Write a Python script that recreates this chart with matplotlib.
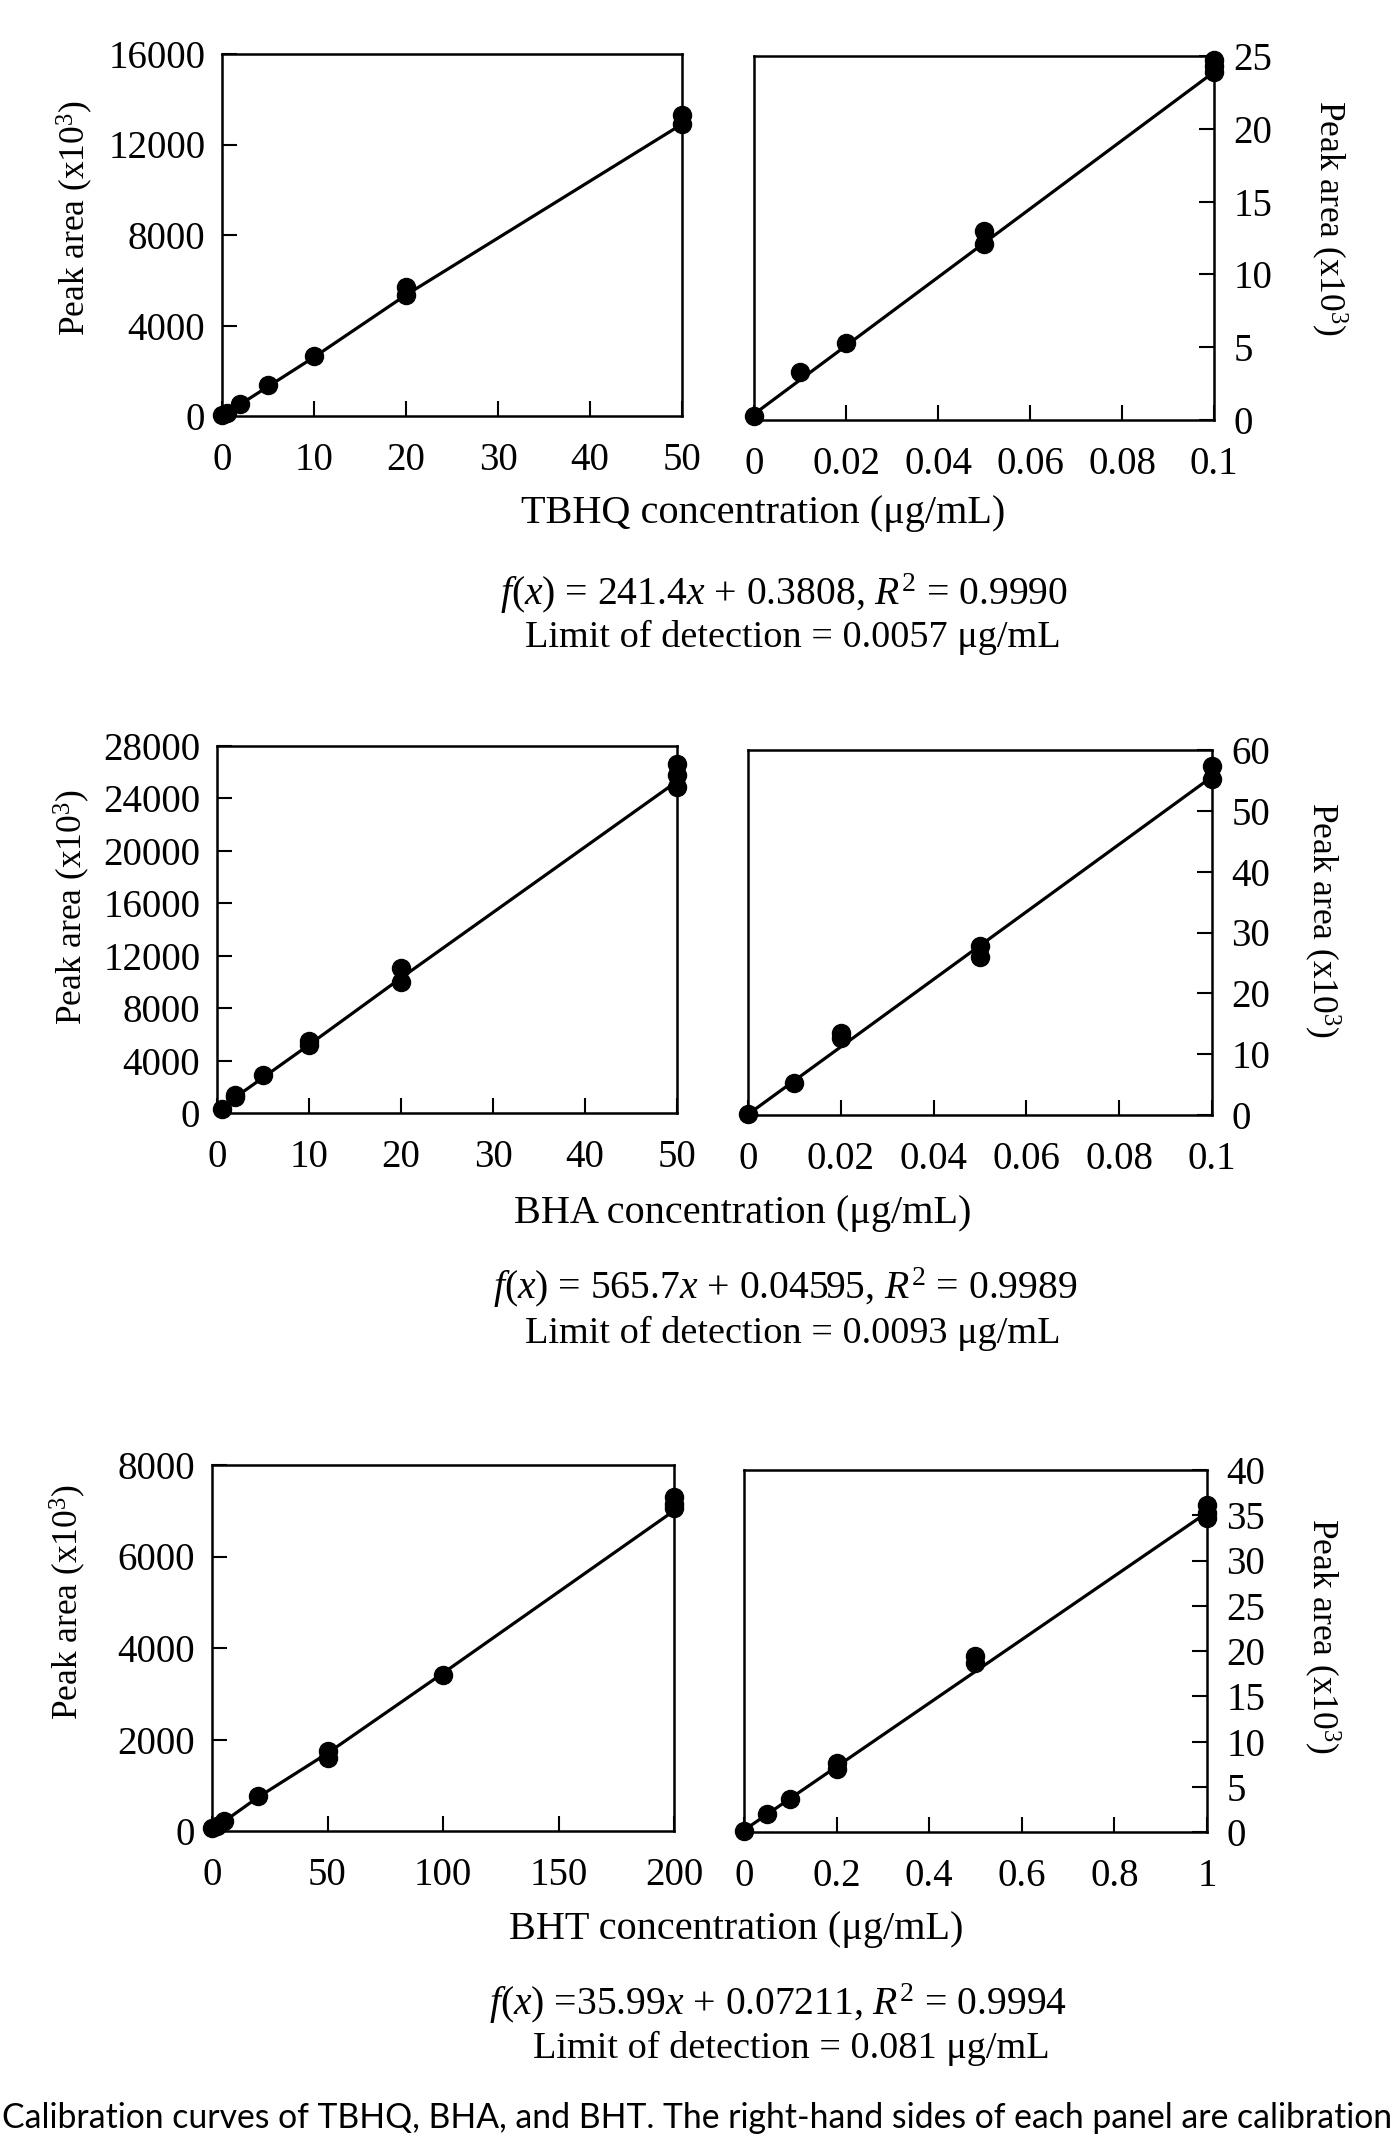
import numpy as np
import matplotlib
matplotlib.use("Agg")
import matplotlib.pyplot as plt

plt.rcParams['font.family'] = ['Liberation Serif', 'DejaVu Serif']
plt.rcParams['mathtext.fontset'] = 'custom'
plt.rcParams['mathtext.rm'] = 'Liberation Serif'
plt.rcParams['mathtext.it'] = 'Liberation Serif:italic'

# ---------------- data ----------------
# TBHQ, high range (µg/mL vs peak area x10^3)
tbhq_hi_x = [0, 0.5, 2, 5, 10, 20, 20, 50, 50]
tbhq_hi_y = [50, 120, 550, 1350, 2650, 5350, 5700, 12900, 13300]
tbhq_hi_line_x = [0, 2, 5, 10, 20, 50]
tbhq_hi_line_y = [30, 520, 1300, 2600, 5350, 12900]
tbhq_hi_xticks = [0, 10, 20, 30, 40, 50]
tbhq_hi_xticklabels = ['0', '10', '20', '30', '40', '50']
tbhq_hi_yticks = [0, 4000, 8000, 12000, 16000]

# TBHQ, low range
tbhq_lo_x = [0, 0.01, 0.02, 0.05, 0.05, 0.1, 0.1, 0.1]
tbhq_lo_y = [0.25, 3.3, 5.3, 13.0, 12.1, 24.7, 24.3, 23.9]
tbhq_lo_line_x = [0, 0.1]
tbhq_lo_line_y = [0.4, 23.9]
tbhq_lo_xticks = [0, 0.02, 0.04, 0.06, 0.08, 0.1]
tbhq_lo_xticklabels = ['0', '0.02', '0.04', '0.06', '0.08', '0.1']
tbhq_lo_yticks = [0, 5, 10, 15, 20, 25]

# BHA, high range
bha_hi_x = [0.5, 2, 2, 5, 10, 10, 20, 20, 50, 50, 50]
bha_hi_y = [300, 1200, 1350, 2900, 5200, 5500, 11100, 10000, 26600, 25800, 24900]
bha_hi_line_x = [0.5, 2, 5, 10, 20, 50]
bha_hi_line_y = [250, 1200, 2700, 5200, 10300, 25300]
bha_hi_xticks = [0, 10, 20, 30, 40, 50]
bha_hi_xticklabels = ['0', '10', '20', '30', '40', '50']
bha_hi_yticks = [0, 4000, 8000, 12000, 16000, 20000, 24000, 28000]

# BHA, low range
bha_lo_x = [0, 0.01, 0.02, 0.02, 0.05, 0.05, 0.1, 0.1]
bha_lo_y = [0.1, 5.3, 13.4, 12.6, 27.8, 25.9, 57.3, 55.3]
bha_lo_line_x = [0, 0.1]
bha_lo_line_y = [0.1, 55.6]
bha_lo_xticks = [0, 0.02, 0.04, 0.06, 0.08, 0.1]
bha_lo_xticklabels = ['0', '0.02', '0.04', '0.06', '0.08', '0.1']
bha_lo_yticks = [0, 10, 20, 30, 40, 50, 60]

# BHT, high range
bht_hi_x = [0, 2, 5, 20, 50, 50, 100, 200, 200, 200]
bht_hi_y = [60, 120, 220, 760, 1750, 1600, 3420, 7300, 7150, 7050]
bht_hi_line_x = [0, 5, 20, 50, 100, 200]
bht_hi_line_y = [30, 200, 740, 1700, 3450, 7000]
bht_hi_xticks = [0, 50, 100, 150, 200]
bht_hi_xticklabels = ['0', '50', '100', '150', '200']
bht_hi_yticks = [0, 2000, 4000, 6000, 8000]

# BHT, low range
bht_lo_x = [0, 0.05, 0.1, 0.2, 0.2, 0.5, 0.5, 1, 1, 1]
bht_lo_y = [0.1, 2.0, 3.7, 7.6, 7.0, 19.4, 18.7, 36.1, 35.2, 34.7]
bht_lo_line_x = [0, 1]
bht_lo_line_y = [0.2, 35.3]
bht_lo_xticks = [0, 0.2, 0.4, 0.6, 0.8, 1]
bht_lo_xticklabels = ['0', '0.2', '0.4', '0.6', '0.8', '1']
bht_lo_yticks = [0, 5, 10, 15, 20, 25, 30, 35, 40]

ylabel_text = 'Peak area (x10$^{3}$)'
xlabels = ['TBHQ concentration (\u03bcg/mL)',
           'BHA concentration (\u03bcg/mL)',
           'BHT concentration (\u03bcg/mL)']
eq_lines = [
    ['$f$($x$) = 241.4$x$ + 0.3808, $R^{2}$ = 0.9990',
     'Limit of detection = 0.0057 \u03bcg/mL'],
    ['$f$($x$) = 565.7$x$ + 0.04595, $R^{2}$ = 0.9989',
     'Limit of detection = 0.0093 \u03bcg/mL'],
    ['$f$($x$) =35.99$x$ + 0.07211, $R^{2}$ = 0.9994',
     'Limit of detection = 0.081 \u03bcg/mL'],
]
caption = ('Calibration curves of TBHQ, BHA, and BHT. The right-hand sides of '
           'each panel are calibration')

# ---------------- layout ----------------
W, H = 1392, 2137
fig = plt.figure(figsize=(W / 100, H / 100), dpi=100)


def rect(l, r, t, b):
    return [l / W, 1 - b / H, (r - l) / W, (b - t) / H]


TICK_FS = 28
LW = 1.8


def panel(box, x, y, lx, ly, xlim, ylim, xticks, xtl, yticks, side):
    ax = fig.add_axes(rect(*box))
    ax.plot(lx, ly, color='black', lw=2.3, solid_capstyle='round', clip_on=False, zorder=2)
    ax.plot(x, y, 'o', color='black', markersize=13, clip_on=False, zorder=3)
    ax.set_xlim(*xlim)
    ax.set_ylim(*ylim)
    ax.set_xticks(xticks)
    ax.set_xticklabels(xtl)
    ax.set_yticks(yticks)
    ax.set_yticklabels([str(v) for v in yticks])
    for s in ax.spines.values():
        s.set_linewidth(LW)
        s.set_color('black')
    ax.tick_params(axis='x', direction='in', length=11, width=1.5,
                   labelsize=TICK_FS, pad=19, top=False, bottom=True)
    if side == 'left':
        ax.tick_params(axis='y', direction='in', length=11, width=1.5,
                       labelsize=TICK_FS, pad=12, left=True, right=False)
    else:
        ax.yaxis.tick_right()
        ax.tick_params(axis='y', direction='in', length=11, width=1.5,
                       labelsize=TICK_FS, pad=14, left=False, right=True,
                       labelleft=False, labelright=True)
    return ax


panel((222, 682, 54, 416), tbhq_hi_x, tbhq_hi_y, tbhq_hi_line_x, tbhq_hi_line_y,
      (0, 50), (0, 16000), tbhq_hi_xticks, tbhq_hi_xticklabels, tbhq_hi_yticks, 'left')
panel((754, 1214, 56, 420), tbhq_lo_x, tbhq_lo_y, tbhq_lo_line_x, tbhq_lo_line_y,
      (0, 0.1), (0, 25), tbhq_lo_xticks, tbhq_lo_xticklabels, tbhq_lo_yticks, 'right')

panel((217, 677, 746, 1113), bha_hi_x, bha_hi_y, bha_hi_line_x, bha_hi_line_y,
      (0, 50), (0, 28000), bha_hi_xticks, bha_hi_xticklabels, bha_hi_yticks, 'left')
panel((748, 1212, 750, 1115), bha_lo_x, bha_lo_y, bha_lo_line_x, bha_lo_line_y,
      (0, 0.1), (0, 60), bha_lo_xticks, bha_lo_xticklabels, bha_lo_yticks, 'right')

panel((212, 674, 1465, 1831), bht_hi_x, bht_hi_y, bht_hi_line_x, bht_hi_line_y,
      (0, 200), (0, 8000), bht_hi_xticks, bht_hi_xticklabels, bht_hi_yticks, 'left')
panel((744, 1207, 1470, 1832), bht_lo_x, bht_lo_y, bht_lo_line_x, bht_lo_line_y,
      (0, 1), (0, 40), bht_lo_xticks, bht_lo_xticklabels, bht_lo_yticks, 'right')


def ftext(px, py, s, **kw):
    return fig.text(px / W, 1 - py / H, s, **kw)


# y labels
for (px, py) in [(75, 218), (72, 907), (68, 1602)]:
    ftext(px, py, ylabel_text, rotation=90, ha='center', va='center', fontsize=25.5)
for (px, py) in [(1329, 218), (1322, 920), (1322, 1636)]:
    ftext(px, py, ylabel_text, rotation=-90, ha='center', va='center', fontsize=25.5)

# x labels
for (px, py), s in zip([(763, 513), (743, 1213), (736, 1929)], xlabels):
    ftext(px, py, s, ha='center', va='center', fontsize=29)

# equations
eq_pos = [((784, 594), (793, 637)), ((785, 1288), (793, 1333)), ((778, 2004), (791, 2048))]
for (p1, p2), (l1, l2) in zip(eq_pos, eq_lines):
    ftext(p1[0], p1[1], l1, ha='center', va='center', fontsize=28.5)
    ftext(p2[0], p2[1], l2, ha='center', va='center', fontsize=27.5)

# caption, scaled to span the page width as in the scan
cap = ftext(2, 2128, caption, ha='left', va='baseline', fontsize=22,
            family=['Lato', 'Liberation Sans', 'DejaVu Sans'])
fig.canvas.draw()
w = cap.get_window_extent(fig.canvas.get_renderer()).width
cap.set_fontsize(22 * 1386 / w)

fig.savefig('out.png', dpi=100)
